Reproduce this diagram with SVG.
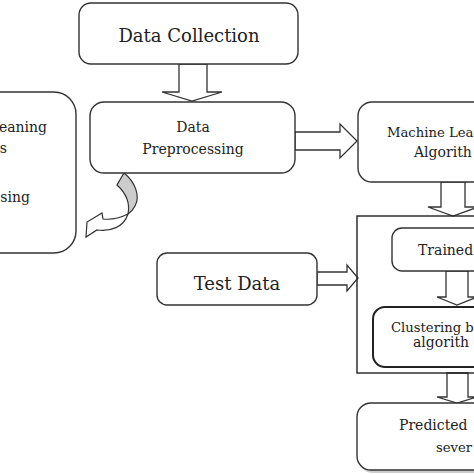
<svg xmlns="http://www.w3.org/2000/svg" width="474" height="474" viewBox="0 0 474 474">
<style>
.box{fill:#fff;stroke:#333;stroke-width:1.4}
.thick{fill:#fff;stroke:#222;stroke-width:2}
.arr{fill:#fff;stroke:#333;stroke-width:1.3;stroke-linejoin:miter}
.t{font-family:"DejaVu Serif","Liberation Serif",serif;fill:#222}
.s13{font-size:13.2px}
.s14{font-size:14px}
.s18{font-size:18px}
</style>
<rect width="474" height="474" fill="#fff"/>
<g id="connectors">
<polygon class="arr" points="179,64 207,64 207,92 222,92 192,101 162,92 179,92"/>
<polygon class="arr" points="295,132 340,132 340,124 357,141 340,158 340,150 295,150"/>
<polygon class="arr" points="441,182 465,182 465,207 478,207 453,216 428,207 441,207"/>
<polygon class="arr" points="317,272 347,272 347,265 358,278 347,291 347,285 317,285"/>
<polygon class="arr" points="446,271 468,271 468,297 477,297 457,305 437,297 446,297"/>
<polygon class="arr" points="447,373 468,373 468,397 477,397 457,403 437,397 447,397"/>
<path d="M124,173 C134,181 141,195 135,206 C133,210 131,212 128,214 C130,204 127,194 117,185 Z" fill="#ccc" stroke="#333" stroke-width="1.2"/>
<path d="M128,214 C124,227 110,232 97,230 L86,237 L87,222 L102,213 L103,219 C112,220 122,217 128,214 Z" fill="#fff" stroke="#333" stroke-width="1.2" stroke-linejoin="miter"/>
</g>
<g id="left-box">
<rect class="box" x="-60" y="92" width="136" height="161" rx="22"/>
<text class="t s14" x="47" y="132" text-anchor="end">eaning</text>
<text class="t s14" x="7" y="153" text-anchor="end">s</text>
<text class="t s14" x="30" y="202" text-anchor="end">sing</text>
</g>
<g id="data-collection">
<rect class="box" x="79" y="3" width="219" height="61" rx="12"/>
<text class="t s18" x="189" y="42" text-anchor="middle">Data Collection</text>
</g>
<g id="data-preprocessing">
<rect class="box" x="90" y="102" width="205" height="71" rx="14"/>
<text class="t s14" x="193" y="132" text-anchor="middle">Data</text>
<text class="t s14" x="193" y="154" text-anchor="middle">Preprocessing</text>
</g>
<g id="machine-learning">
<rect class="box" x="358" y="102" width="180" height="80" rx="14"/>
<text class="t s13" x="387" y="137">Machine Lea</text>
<text class="t s14" x="414" y="157">Algorith</text>
</g>
<g id="model-frame">
<rect fill="none" stroke="#222" stroke-width="1.4" x="357" y="216" width="140" height="157"/>
</g>
<g id="trained">
<rect class="box" x="392" y="228" width="140" height="43" rx="10"/>
<text class="t s14" x="418" y="255">Trained</text>
</g>
<g id="clustering">
<rect class="thick" x="373" y="307" width="160" height="60" rx="12"/>
<text class="t s13" x="391" y="332">Clustering b</text>
<text class="t s14" x="413" y="347">algorith</text>
</g>
<g id="predicted">
<rect x="359" y="406" width="180" height="67" rx="14" fill="#ccc"/>
<rect class="box" x="357" y="403" width="180" height="67" rx="14"/>
<text class="t s14" x="399" y="430">Predicted</text>
<text class="t s13" x="436" y="452">sever</text>
</g>
<g id="test-data">
<rect class="box" x="157" y="253" width="160" height="52" rx="10"/>
<text class="t s18" x="237" y="290" text-anchor="middle">Test Data</text>
</g>
</svg>
